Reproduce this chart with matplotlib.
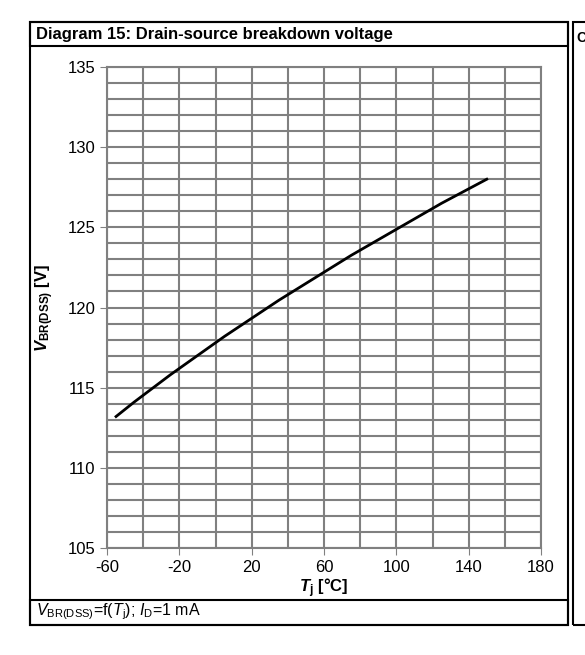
import matplotlib
matplotlib.use("Agg")
import matplotlib.pyplot as plt
from matplotlib.patches import Rectangle

# ── Data ────────────────────────────────────────────────────────────
tj = [-55, -45, -35, -25, -15, -5, 5, 15, 25, 35, 45, 55, 65, 75, 85, 95, 105,
      115, 125, 135, 145, 150]
vbr = [113.2, 114.1, 114.95, 115.8, 116.6, 117.4, 118.2, 118.95, 119.7, 120.45,
       121.15, 121.85, 122.55, 123.25, 123.9, 124.55, 125.2, 125.85, 126.5,
       127.1, 127.7, 128.0]
x_ticks = [-60, -20, 20, 60, 100, 140, 180]
y_ticks = [105, 110, 115, 120, 125, 130, 135]

W, H = 585, 655
plt.rcParams["font.family"] = ["Liberation Sans", "DejaVu Sans"]
plt.rcParams["mathtext.fontset"] = "custom"
plt.rcParams["mathtext.rm"] = "Liberation Sans"
plt.rcParams["mathtext.it"] = "Liberation Sans:italic"
plt.rcParams["mathtext.bf"] = "Liberation Sans:bold"
plt.rcParams["mathtext.bfit"] = "Liberation Sans:italic:bold"
fig = plt.figure(figsize=(W / 100, H / 100), dpi=100)


def fx(px):
    return px / W


def fy(py):
    return 1 - py / H


# outer frame, title row and caption row
for x0, y0, x1, y1 in [(30, 22, 568, 625), (30, 22, 568, 46), (30, 600, 568, 625)]:
    fig.patches.append(Rectangle((fx(x0), fy(y1)), fx(x1 - x0), (y1 - y0) / H,
                                 transform=fig.transFigure, fill=False,
                                 edgecolor="black", linewidth=1.5))
fig.patches.append(Rectangle((fx(573), fy(625)), fx(30), 603 / H, transform=fig.transFigure,
                             fill=False, edgecolor="black", linewidth=1.5))
fig.text(fx(576), fy(42), "C", fontsize=10, fontweight="bold")

fig.text(fx(36), fy(34), "Diagram 15: Drain-source breakdown voltage",
         fontsize=12, fontweight="bold", va="center")
fig.text(fx(36), fy(612), r"$V_{\mathrm{BR(DSS)}}$=f($T_{\mathrm{j}}$); $I_{\mathrm{D}}$=1 mA",
         fontsize=11.5, va="center")

ax = fig.add_axes([fx(107), fy(548), fx(541 - 107), (548 - 67) / H])
ax.plot(tj, vbr, color="black", linewidth=2)
ax.set_xlim(-60, 180)
ax.set_ylim(105, 135)
ax.set_xticks(x_ticks)
ax.set_xticklabels([str(v) for v in x_ticks])
ax.set_yticks(y_ticks)
ax.set_xticks(range(-60, 181, 20), minor=True)
ax.set_yticks(range(105, 136), minor=True)
ax.grid(True, which="both", color="#808080", linewidth=1.5)
ax.set_axisbelow(True)
for s in ax.spines.values():
    s.set_color("#808080")
    s.set_linewidth(1.5)
ax.tick_params(which="major", length=5, color="#808080", labelsize=12)
ax.tick_params(which="minor", length=0)
ax.set_xlabel(r"$\mathbfit{T}_{\mathbf{j}}$ [°C]", fontsize=12, fontweight="bold", labelpad=1)
ax.set_ylabel(r"$\mathbfit{V}_{\mathbf{BR(DSS)}}$ [V]", fontsize=12, fontweight="bold", labelpad=8)

fig.savefig("out.png", dpi=100)
